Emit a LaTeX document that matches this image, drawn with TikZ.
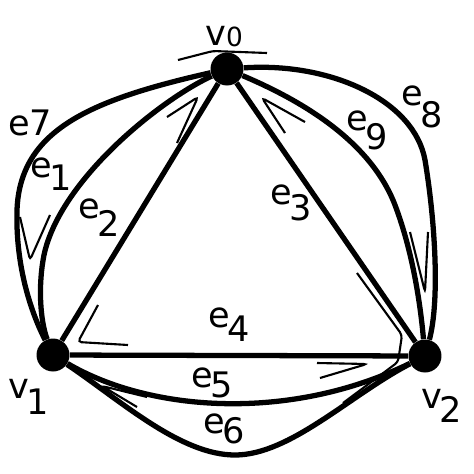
\documentclass[tikz,border=0pt]{standalone}
\usepackage{fontspec}
\setmainfont{DejaVu Sans}
\usetikzlibrary{positioning}
\newcommand{\elab}[3][8pt]{#2\kern-1.5pt\raisebox{-#1}{#3}}
\tikzset{x=0.02cm, y=-0.02cm, % pixel grid, y pointing down
         vertex/.style={circle,fill=black,inner sep=0pt,minimum size=0.66cm},
         edgeline/.style={line width=3pt},
         corner/.style={line width=1.2pt,rounded corners=2pt},
         elabel/.style={inner sep=0pt,anchor=base west,
           font=\fontsize{20}{20}\selectfont}}

\begin{document}
\begin{tikzpicture}
\useasboundingbox (0,0) rectangle (474,474);
\begin{scope}[every node/.style={vertex}]
    \node (v0) at (227,69) {};
    \node (v1) at (53,355) {};
    \node (v2) at (425,356) {};
\end{scope}

\begin{scope}[every edge/.style={draw,edgeline}]
    \path [-] (v0) edge (v1); % e2
    \path [-] (v0) edge (v2); % e3
    \path [-] (v1) edge (v2); % e4
\end{scope}

% curved edges
\draw[edgeline] (v0) .. controls (160,100) and (60,180) .. (44,255)
                     .. controls (38,285) and (40,320) .. (v1); % e1
\draw[edgeline] (v0) .. controls (90,100) and (20,130) .. (17,210)
                     .. controls (15,280) and (40,330) .. (v1); % e7
\draw[edgeline] (v0) .. controls (300,100) and (370,140) .. (395,205)
                     .. controls (412,250) and (420,300) .. (v2); % e9
\draw[edgeline] (v0) .. controls (330,62) and (414,100) .. (425,160)
                     .. controls (435,220) and (440,300) .. (v2); % e8
\draw[edgeline] (v1) .. controls (150,412) and (290,422) .. (v2); % e5
\draw[edgeline] (v1) .. controls (120,400) and (180,455) .. (235,455)
                     .. controls (290,455) and (350,395) .. (v2); % e6

% corner marks
\begin{scope}[corner]
    \draw (178,60) -- (213,51) -- (267,53);
    \draw (167,117) -- (198,97) -- (177,143);
    \draw (305,122) -- (262,98) -- (285,133);
    \draw (20,217) -- (30,260) -- (50,215);
    \draw (98,305) -- (78,342) -- (128,345);
    \draw (147,397) -- (102,386) -- (137,407);
    \draw (317,363) -- (367,364) -- (320,378);
    \draw (410,232) -- (425,292) -- (428,232);
    \draw (357,273) -- (402,335) -- (398,362) -- (343,403);
\end{scope}

\begin{scope}[every node/.style={elabel}]
    \node (lv0) at (205,45) {v\raisebox{-1pt}{\fontsize{15}{15}\selectfont 0}};
    \node (lv1) at (8,398) {\elab[9.6pt]{v}{1}};
    \node (lv2) at (421,408) {\elab[8.5pt]{v}{2}};
    \node (le7) at (8,135) {e7};
    \node (le1) at (30,177) {\elab[7.4pt]{e}{1}};
    \node (le2) at (78,218) {\elab[10.8pt]{e}{2}};
    \node (le3) at (270,204) {\elab[9.5pt]{e}{3}};
    \node (le4) at (208,327) {\elab[8.5pt]{e}{4}};
    \node (le5) at (191,387) {\elab[5.7pt]{e}{5}};
    \node (le6) at (203,433) {\elab[5.7pt]{e}{6}};
    \node (le9) at (346,130) {\elab[11.3pt]{e}{9}};
    \node (le8) at (401,105) {\elab[13pt]{e}{8}};
\end{scope}
\end{tikzpicture}
\end{document}
